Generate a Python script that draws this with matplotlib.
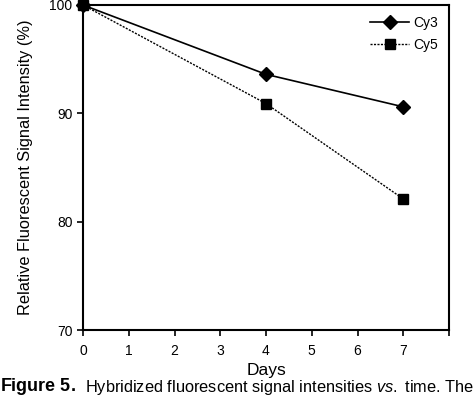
import matplotlib
matplotlib.use("Agg")
import matplotlib.pyplot as plt

# data
days = [0, 4, 7]
cy3 = [100, 93.6, 90.6]
cy5 = [100, 90.9, 82.1]
x_ticks = [0, 1, 2, 3, 4, 5, 6, 7, 8]
x_labels = ["0", "1", "2", "3", "4", "5", "6", "7", ""]
y_ticks = [70, 80, 90, 100]

plt.rcParams['font.family'] = ['Liberation Sans', 'DejaVu Sans']
plt.rcParams['mathtext.fontset'] = 'custom'
plt.rcParams['mathtext.rm'] = 'Liberation Sans'
plt.rcParams['mathtext.it'] = 'Liberation Sans:italic'
plt.rcParams['mathtext.bf'] = 'Liberation Sans:bold'

fig = plt.figure(figsize=(4.74, 3.99), dpi=100)
ax = fig.add_axes([83 / 474, 1 - 330 / 399, (449 - 83) / 474, (330 - 5) / 399])

ax.plot(days, cy3, color="black", linestyle="-", linewidth=1.2,
        marker="D", markersize=7, label="Cy3", clip_on=False)
ax.plot(days, cy5, color="black", linestyle=(0, (1.5, 1)), linewidth=1.0,
        marker="s", markersize=7, label="Cy5", clip_on=False)

ax.set_xlim(0, 8)
ax.set_ylim(70, 100)
ax.set_xticks(x_ticks)
ax.set_xticklabels(x_labels)
ax.set_yticks(y_ticks)
ax.tick_params(direction="out", length=4, width=1.2, labelsize=10)
ax.tick_params(axis="x", pad=6)
for s in ax.spines.values():
    s.set_linewidth(1.5)

ax.set_xlabel("Days", fontsize=12.5, labelpad=4)
ax.set_ylabel("Relative Fluorescent Signal Intensity (%)", fontsize=11.8, labelpad=12)

leg = ax.legend(loc="upper right", frameon=False, fontsize=10,
                handlelength=2.8, handletextpad=0.3, borderaxespad=0.4,
                labelspacing=0.55)

# caption under the chart
fig.text(0.0, 0.004, r"$\mathbf{Figure\ 5.}$", fontsize=13, ha="left", va="bottom")
fig.text(1.0, 0.004, r"Hybridized fluorescent signal intensities $\mathit{vs.}$ time. The",
         fontsize=11.8, ha="right", va="bottom")

fig.savefig("out.png", dpi=100)
